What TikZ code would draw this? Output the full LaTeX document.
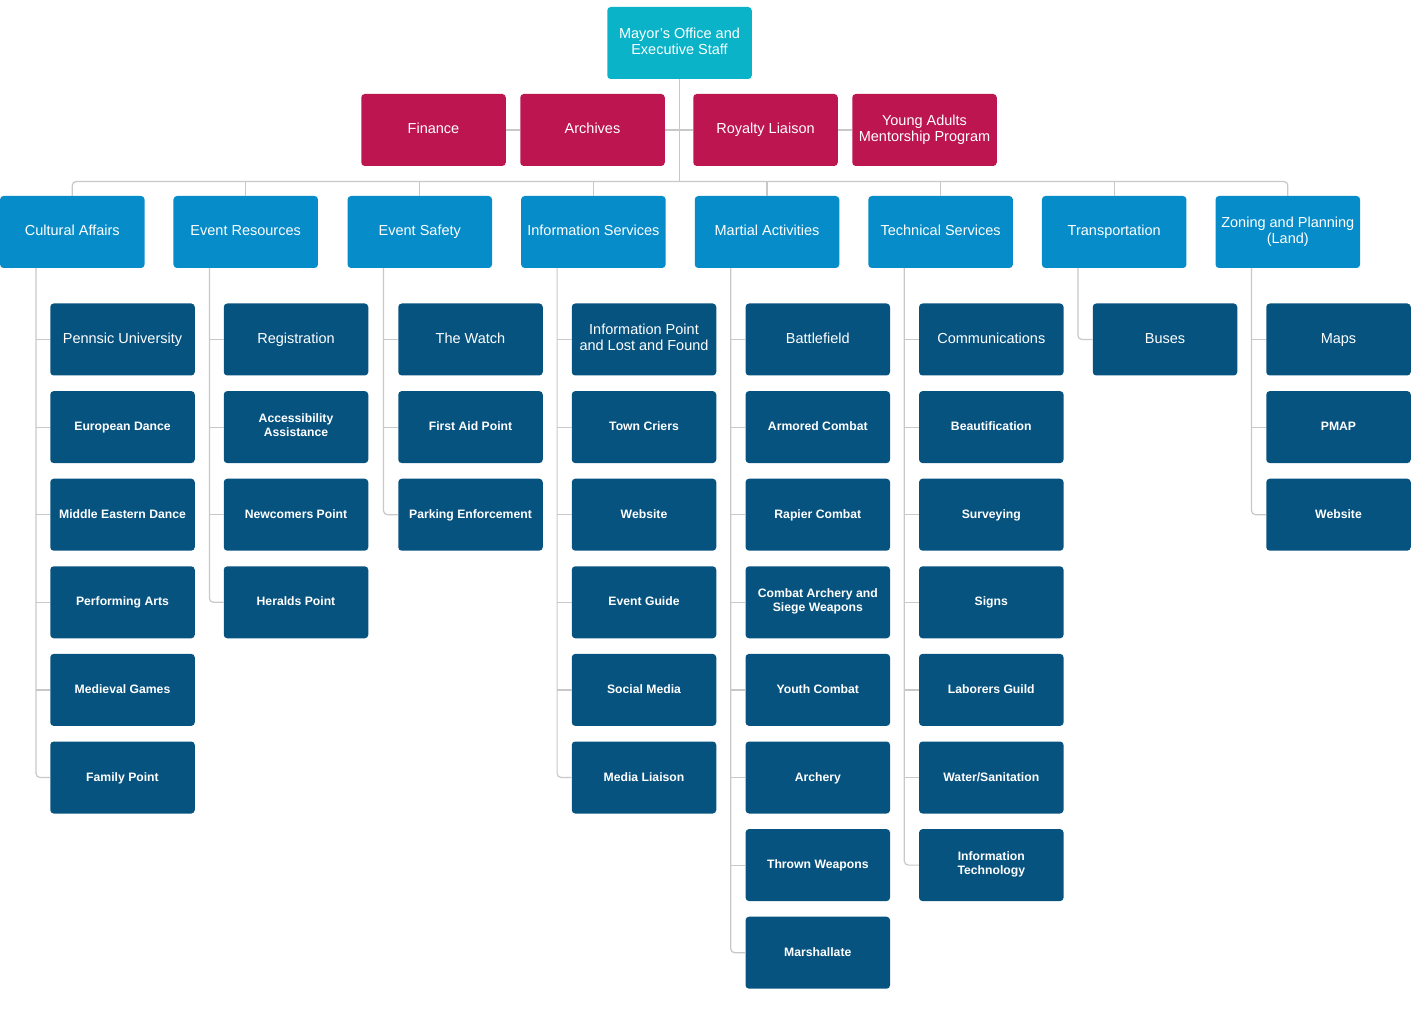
\documentclass[tikz,border=0pt]{standalone}
\usepackage{fontspec}
\setmainfont{Liberation Sans}
\definecolor{cMayor}{HTML}{0AB3C8}
\definecolor{cAsst}{HTML}{BD1550}
\definecolor{cDept}{HTML}{068CC9}
\definecolor{cChild}{HTML}{075380}
\definecolor{cLine}{HTML}{C8C8C8}
\newcommand\myrstrut{\rule[-4.2pt]{0pt}{15.6pt}}
\newcommand\mybstrut{\rule[-3.6pt]{0pt}{12.9pt}}
\tikzset{
  box/.style={rounded corners=3.5pt, minimum width=144.5pt, minimum height=72pt,
    inner sep=0pt, align=center, text=white, font=\fontsize{14.5}{16}\selectfont,
    execute at begin node=\myrstrut, execute at end node=\myrstrut},
  mayorbox/.style={box, fill=cMayor},
  asstbox/.style={box, fill=cAsst},
  deptbox/.style={box, fill=cDept},
  kidA/.style={box, fill=cChild},
  kidB/.style={box, fill=cChild, font=\bfseries\fontsize{12.2}{14.5}\selectfont,
    execute at begin node=\mybstrut, execute at end node=\mybstrut},
  krow0/.style={kidA}, krow1/.style={kidB}, krow2/.style={kidB}, krow3/.style={kidB},
  krow4/.style={kidB}, krow5/.style={kidB}, krow6/.style={kidB}, krow7/.style={kidB},
  conn/.style={draw=cLine, line width=1.2pt, rounded corners=4pt}
}
\begin{document}
\begin{tikzpicture}[x=1pt,y=-1pt]
\useasboundingbox (0,0) rectangle (1417,1016);
% top
\node[mayorbox] (mayor) at (679.5,43) {Mayor's Office and\\Executive Staff};
\node[asstbox] (fin) at (433.5,130) {Finance};
\node[asstbox] (arc) at (592.5,130) {Archives};
\node[asstbox] (roy) at (765.5,130) {Royalty Liaison};
\node[asstbox] (yam) at (924.5,130) {Young Adults\\Mentorship Program};
% departments
\node[deptbox] (ca) at (72.3,232) {Cultural Affairs};
\node[deptbox] (er) at (245.7,232) {Event Resources};
\node[deptbox] (es) at (419.8,232) {Event Safety};
\node[deptbox] (is) at (593.4,232) {Information Services};
\node[deptbox] (ma) at (767,232) {Martial Activities};
\node[deptbox] (ts) at (940.6,232) {Technical Services};
\node[deptbox] (tr) at (1114.2,232) {Transportation};
\node[deptbox] (zp) at (1287.8,232) {Zoning and Planning\\(Land)};
% children
\foreach \t [count=\n from 0] in {Pennsic University, European Dance, Middle Eastern Dance, Performing Arts, Medieval Games, Family Point}
  \node[krow\n] (ca-\n) at (122.5,339.5+87.6*\n) {\t};
\foreach \t [count=\n from 0] in {Registration, {Accessibility\\Assistance}, Newcomers Point, Heralds Point}
  \node[krow\n] (er-\n) at (296,339.5+87.6*\n) {\t};
\foreach \t [count=\n from 0] in {The Watch, First Aid Point, Parking Enforcement}
  \node[krow\n] (es-\n) at (470.5,339.5+87.6*\n) {\t};
\foreach \t [count=\n from 0] in {{Information Point\\and Lost and Found}, Town Criers, Website, Event Guide, Social Media, Media Liaison}
  \node[krow\n] (is-\n) at (644,339.5+87.6*\n) {\t};
\foreach \t [count=\n from 0] in {Battlefield, Armored Combat, Rapier Combat, {Combat Archery and\\Siege Weapons}, Youth Combat, Archery, Thrown Weapons, Marshallate}
  \node[krow\n] (ma-\n) at (817.8,339.5+87.6*\n) {\t};
\foreach \t [count=\n from 0] in {Communications, Beautification, Surveying, Signs, Laborers Guild, Water/Sanitation, {Information\\Technology}}
  \node[krow\n] (ts-\n) at (991.3,339.5+87.6*\n) {\t};
\foreach \t [count=\n from 0] in {Buses}
  \node[krow\n] (tr-\n) at (1165,339.5+87.6*\n) {\t};
\foreach \t [count=\n from 0] in {Maps, PMAP, Website}
  \node[krow\n] (zp-\n) at (1338.5,339.5+87.6*\n) {\t};
% connectors: top
\coordinate (bus) at (679.5,181.5);
\draw[conn] (mayor.south) -- (bus);
\draw[conn] (fin.east) -- (arc.west);
\draw[conn] (arc.east) -- (roy.west);
\draw[conn] (roy.east) -- (yam.west);
\draw[conn] (ca.north) |- (bus) -| (zp.north);
\foreach \d in {er,es,is,ma,ts,tr}
  \draw[conn] (\d.north) -- (\d.north |- bus);
% connectors: children
\foreach \d/\last in {ca/5, er/3, es/2, is/5, ma/7, ts/6, tr/0, zp/2}{
  \coordinate (\d-sp) at ([xshift=-36.3pt]\d.south);
  \draw[conn] (\d-sp) |- (\d-\last.west);
  \ifnum\last>0
    \pgfmathtruncatemacro{\prev}{\last-1}
    \foreach \k in {0,...,\prev}
      \draw[conn] (\d-sp |- \d-\k.west) -- (\d-\k.west);
  \fi
}
\end{tikzpicture}
\end{document}
